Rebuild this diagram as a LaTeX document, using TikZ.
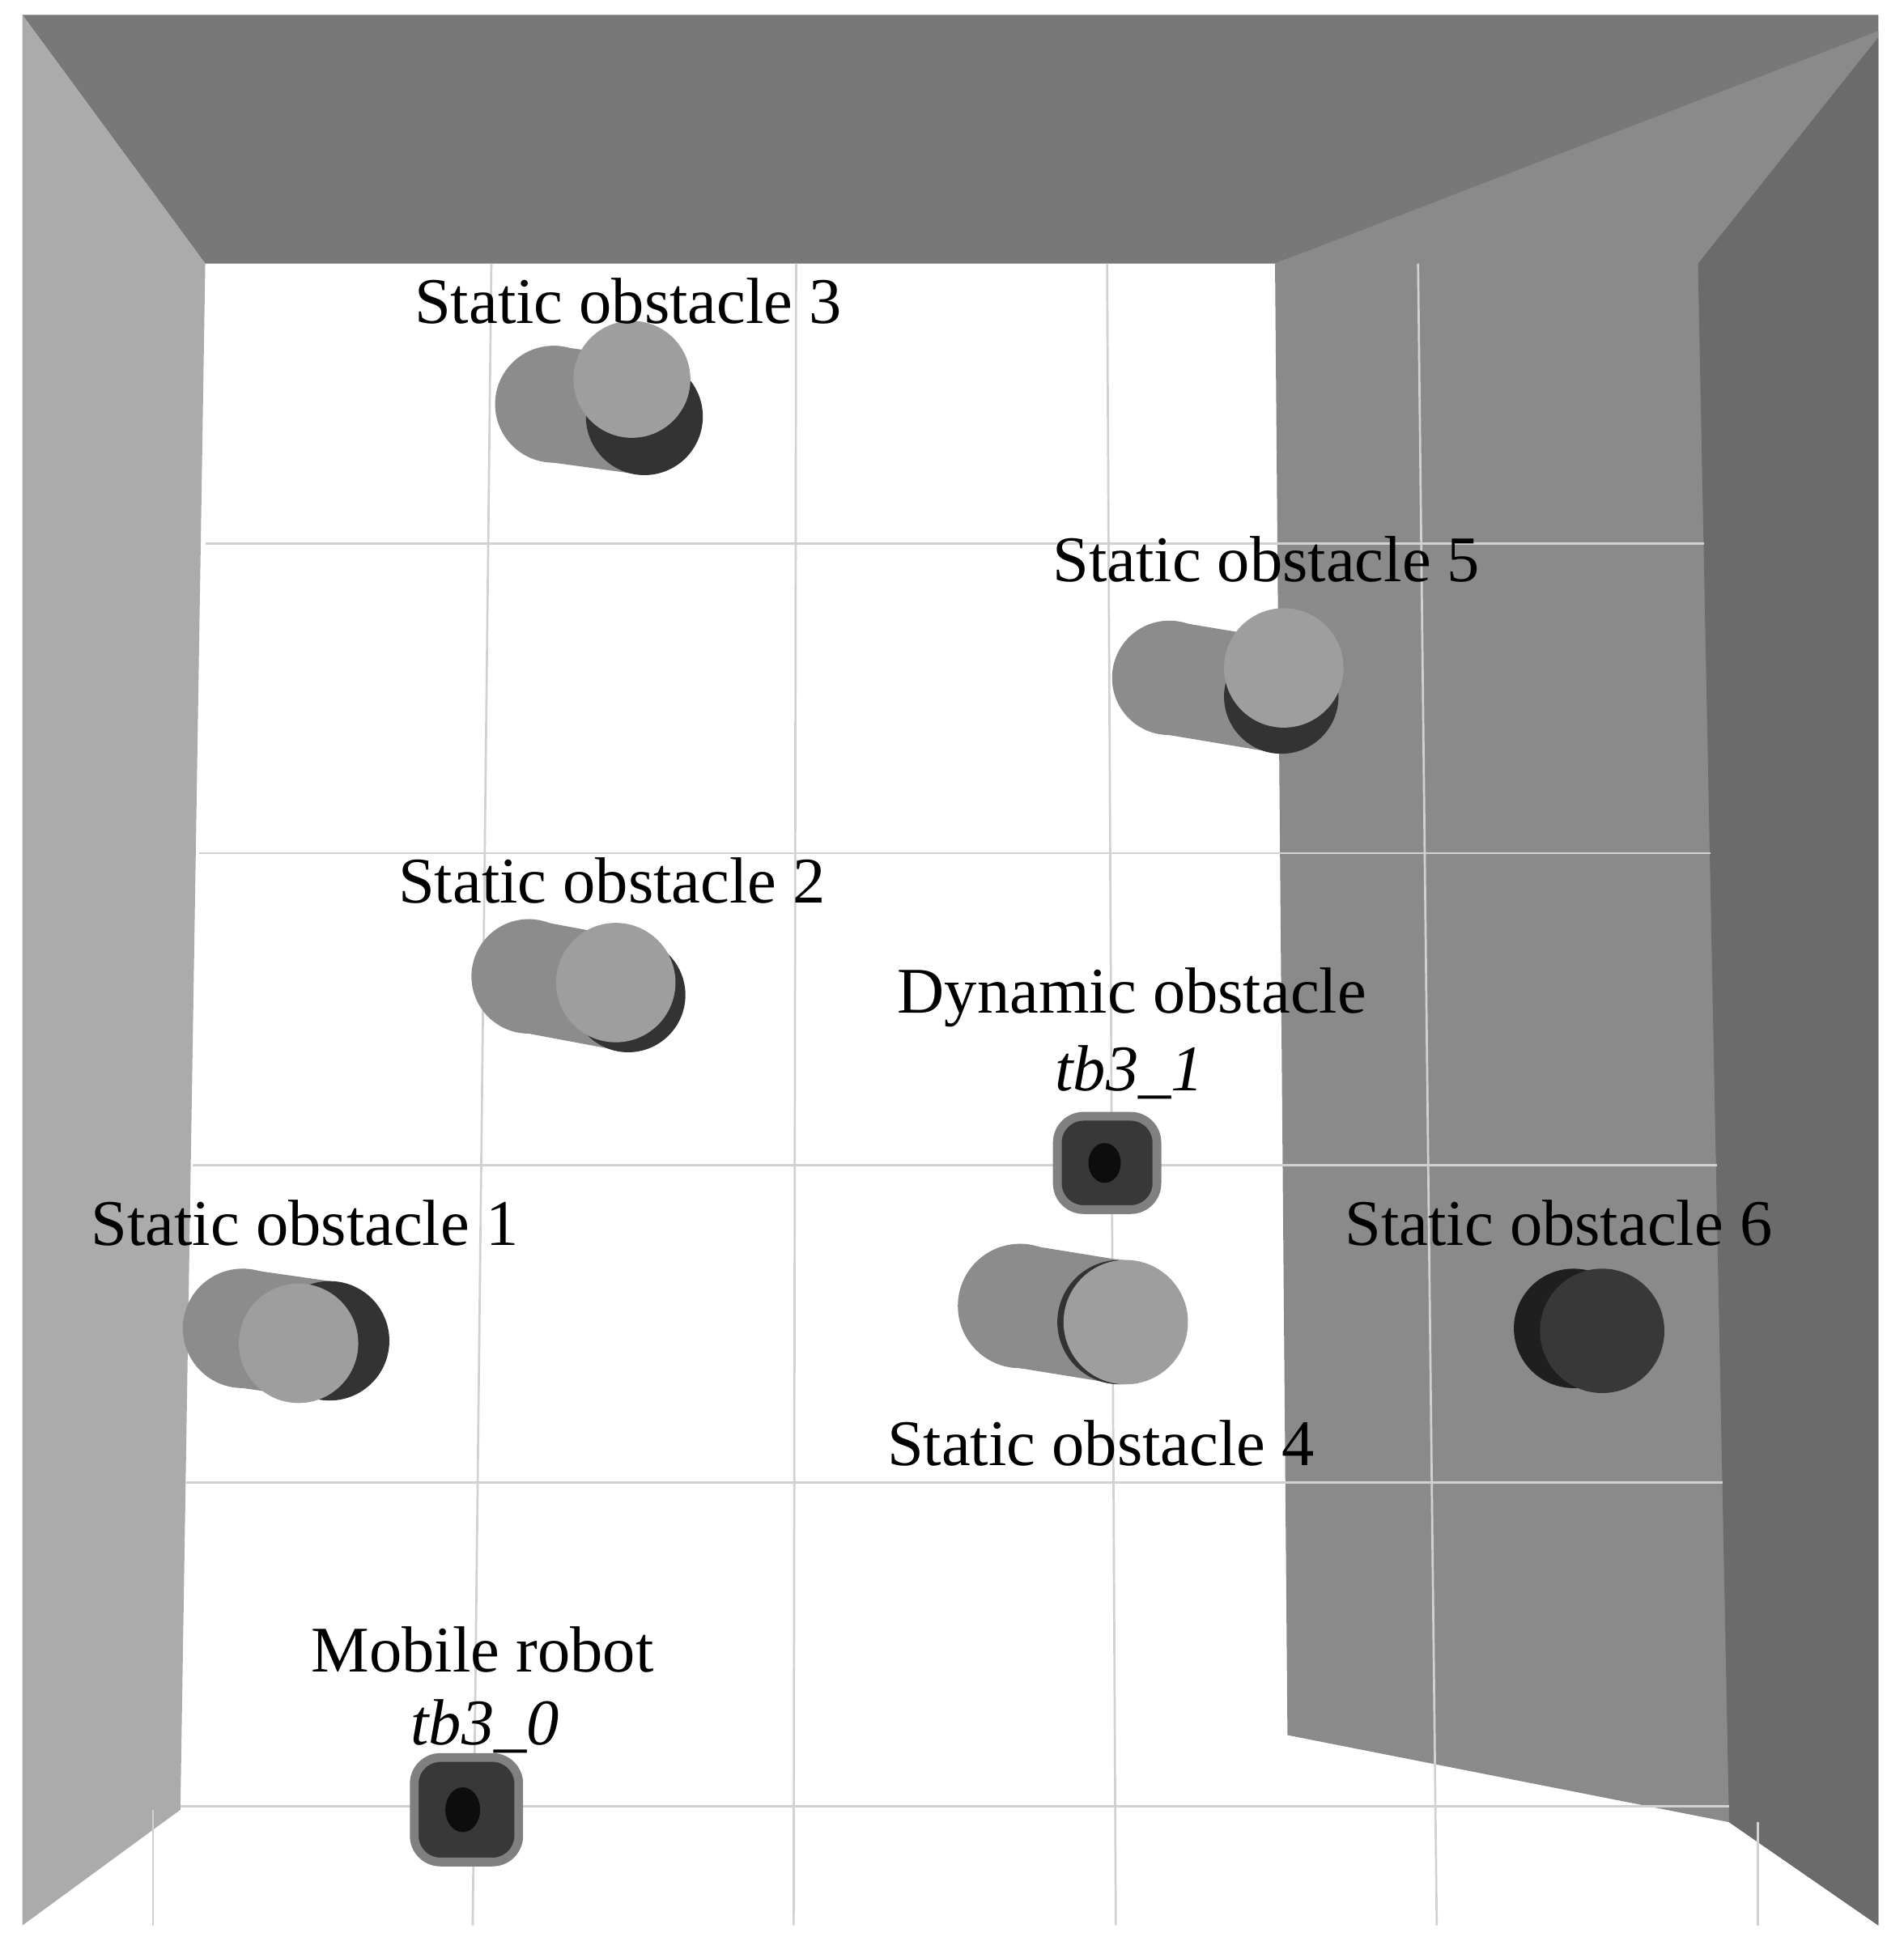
\documentclass[tikz,border=0pt]{standalone}
\usepackage{fontspec}
\setmainfont{Liberation Serif}
\begin{document}
\begin{tikzpicture}[x=0.01cm,y=-0.01cm,
  lbl/.style={font=\fontsize{14.9}{16}\selectfont,inner sep=0pt},
  grid/.style={draw=black!18,line width=0.5pt},
  robotbox/.style={fill=black!78,draw=black!50,line width=2pt,rounded corners=6pt}]
\useasboundingbox (0,0) rectangle (1530,1571);
\fill[white] (0,0) rectangle (1530,1571);
% walls
\fill[black!53] (18,12) -- (1510,12) -- (1510,30) -- (1025,212) -- (165,212) -- cycle;
\fill[black!33] (18,12) -- (165,212) -- (145,1455) -- (18,1548) -- cycle;
\fill[black!46] (1025,212) -- (1510,25) -- (1510,1548) -- (1390,1465) -- (1035,1395) -- cycle;
\fill[black!58] (1365,212) -- (1510,30) -- (1510,1548) -- (1390,1465) -- cycle;
% grid
\foreach \a/\b in {395/380,640/638,890/897,1140/1155}
  \draw[grid] (\a,212) -- (\b,1548);
\draw[grid] (123,1455) -- (123,1548);
\draw[grid] (1413,1465) -- (1413,1548);
\foreach \y/\l/\r in {437/165/1370,686/160/1375,937/155/1380,1192/150/1385,1452/145/1390}
  \draw[grid] (\l,\y) -- (\r,\y);
% cylinders: left circle, dark side, top
\newcommand{\cyl}[9]{%
  \fill[black!45] (#1,#2) circle (#7);
  \fill[black!45] (#1,#2-#7) -- (#3,#4-#7) -- (#3,#4+#7) -- (#1,#2+#7) -- cycle;
  \fill[black!80] (#3,#4) circle (#7);
  \fill[#9] (#5,#6) circle (#8);}
\cyl{445}{325}{518}{335}{508}{305}{47}{47}{black!38}
\cyl{940}{545}{1030}{560}{1032}{537}{46}{48}{black!38}
\cyl{425}{785}{505}{800}{495}{790}{46}{48}{black!38}
\cyl{195}{1068}{265}{1078}{240}{1080}{48}{48}{black!38}
\cyl{820}{1050}{900}{1063}{905}{1063}{50}{50}{black!38}
\fill[black!88] (1265,1068) circle (48);
\fill[black!78] (1288,1070) circle (50);
% robots
\node[robotbox,minimum width=0.84cm,minimum height=0.84cm] (r0) at (375,1455) {};
\fill[black!95] (372,1455) ellipse (14 and 18);
\node[robotbox,minimum width=0.8cm,minimum height=0.75cm] (r1) at (890,935) {};
\fill[black!95] (888,935) ellipse (13 and 16);
% labels
\node[lbl] (l3) at (505,242) {Static obstacle 3};
\node[lbl] (l5) at (1018,450) {Static obstacle 5};
\node[lbl] (l2) at (492,708) {Static obstacle 2};
\node[lbl] (ld) at (910,802) {Dynamic obstacle};
\node[lbl] (ld2) at (908,862) {\itshape tb3\_1};
\node[lbl] (l1) at (245,983) {Static obstacle 1};
\node[lbl] (l6) at (1253,983) {Static obstacle 6};
\node[lbl] (l4) at (885,1160) {Static obstacle 4};
\node[lbl] (lm) at (388,1326) {Mobile robot};
\node[lbl] (lm2) at (390,1388) {\itshape tb3\_0};
\end{tikzpicture}
\end{document}
